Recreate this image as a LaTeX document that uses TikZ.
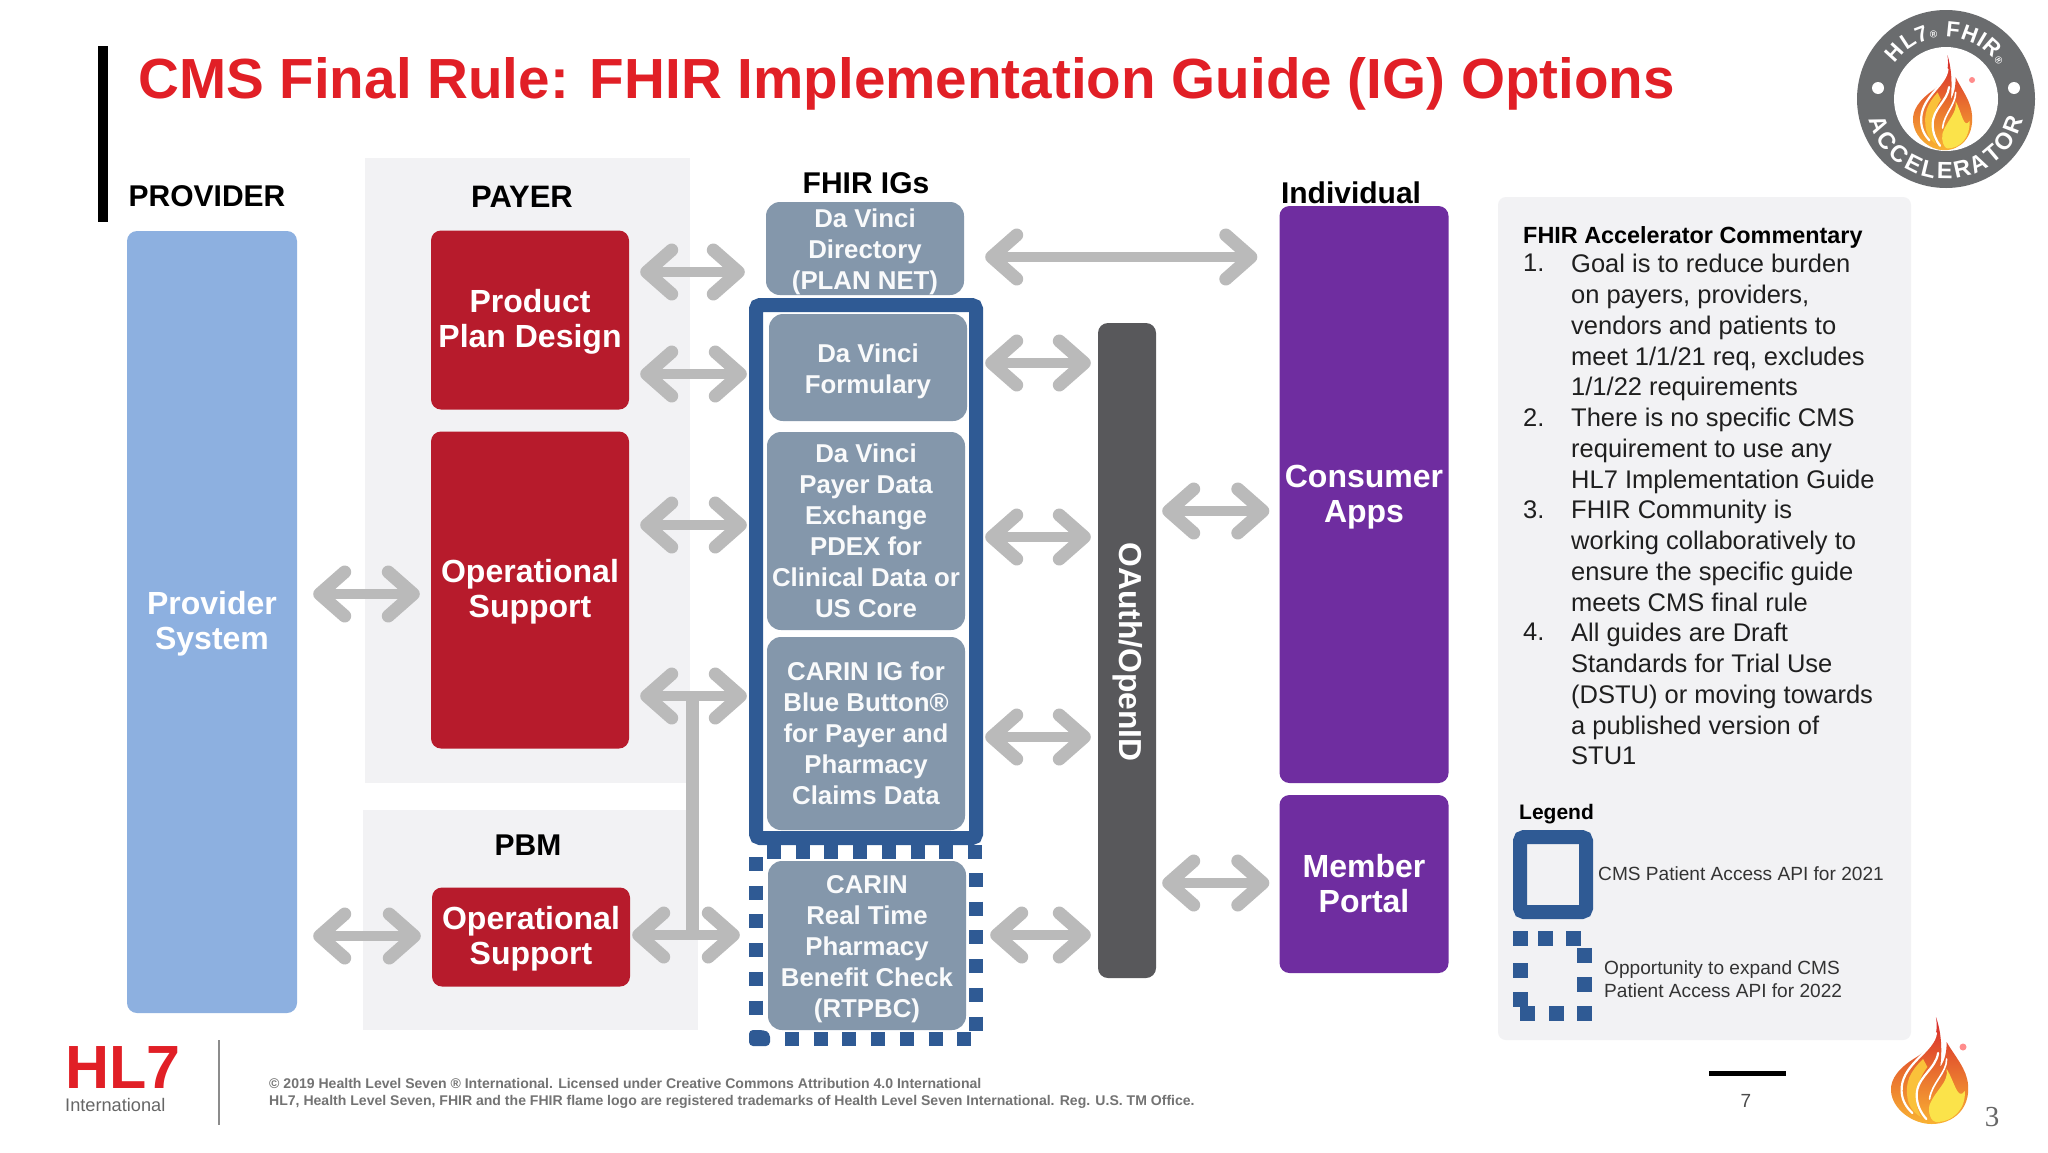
\documentclass[tikz,border=0pt]{standalone}
\usepackage{fontspec}
\setmainfont{Liberation Sans}
\newfontfamily\serifthree{Liberation Serif}
\usetikzlibrary{arrows.meta,decorations.text}
\definecolor{pan}{HTML}{F2F2F4}
\definecolor{provc}{HTML}{8DB0E0}
\definecolor{redc}{HTML}{B71B2C}
\definecolor{igc}{HTML}{8497AB}
\definecolor{framec}{HTML}{2F5A94}
\definecolor{purpc}{HTML}{6F2DA0}
\definecolor{oauthc}{HTML}{58585B}
\definecolor{arrc}{HTML}{BABABA}
\definecolor{titlec}{HTML}{E11F26}
\definecolor{logoc}{HTML}{6A6C6E}
\definecolor{flametop}{HTML}{D7262B}
\definecolor{flamebot}{HTML}{F9B233}
\definecolor{flamemid}{HTML}{F08A24}
\definecolor{flamecore}{HTML}{FBE34A}
\newcommand{\fs}[2]{\fontsize{#1}{#2}\selectfont}
\newcommand{\up}{\rule{0pt}{25pt}}
\newcommand{\upb}{\rule{0pt}{27.5pt}}
\newcommand{\flameart}{%
  \shade[top color=flametop,bottom color=flamebot,shading angle=0]
    (42,0) .. controls (45,20) and (38,30) .. (24,40) .. controls (8,50) and (-1,62) .. (0,74)
    .. controls (1,92) and (20,107) .. (38,107) .. controls (58,107) and (74,92) .. (72,68)
    .. controls (71,52) and (60,40) .. (52,25) .. controls (52,36) and (50,44) .. (46,50)
    .. controls (48,32) and (47,15) .. (42,0) -- cycle;
  \fill[flamecore] (52,52) .. controls (54,66) and (42,72) .. (36,88)
    .. controls (34,96) and (38,105) .. (42,105) .. controls (58,105) and (70,92) .. (69,74)
    .. controls (62,84) and (60,66) .. (52,52) -- cycle;
  \fill[flamebot!70!flamecore] (30,42) .. controls (18,54) and (12,66) .. (16,84)
    .. controls (18,92) and (24,98) .. (28,100) .. controls (20,84) and (24,64) .. (34,50) -- cycle;
  \draw[white,line width=2.2pt,line cap=round] (42,16) .. controls (40,34) and (12,46) .. (10,70) .. controls (9,82) and (14,90) .. (20,96);
  \draw[white,line width=2.2pt,line cap=round] (44,36) .. controls (42,52) and (24,60) .. (24,78) .. controls (24,88) and (28,96) .. (33,102);
  \draw[white,line width=1.6pt,line cap=round] (52,42) .. controls (52,56) and (38,66) .. (36,82);
}
\tikzset{
  x=1pt,y=-1pt,
  lbl/.style={font=\bfseries\fs{30}{34},text=black,inner sep=0pt},
  block/.style={rounded corners=10pt,inner sep=0pt,align=center,text=white,font=\bfseries\fs{32}{35}},
  redbox/.style={block,fill=redc},
  purpbox/.style={block,fill=purpc},
  igbox/.style={rounded corners=14pt,inner sep=0pt,align=center,text=white!95!igc,fill=igc,font=\fs{25.8}{31}\bfseries},
  bi/.style={line width=10pt,color=arrc,{Straight Barb[round,length=25pt,width=44pt,line width=13pt]}-{Straight Barb[round,length=25pt,width=44pt,line width=13pt]}},
  solidframe/.style={draw=framec,line width=14pt,rounded corners=4pt},
  dashedge/.style={draw=framec,line width=14pt,dash pattern=on 14pt off 14.7pt},
  sq/.style={fill=framec},
  comm/.style={anchor=north west,inner sep=0pt,align=left,font=\fs{25.5}{30.8},text=black!88},
  foot/.style={anchor=base west,inner sep=0pt,font=\bfseries\fs{14.05}{15},text=black!55},
}
\begin{document}
\begin{tikzpicture}
\useasboundingbox (0,0) rectangle (2048,1152);
\fill[white] (0,0) rectangle (2048,1152);

% background panels
\fill[pan] (365,158) rectangle (690,783);
\fill[pan] (363,810) rectangle (698,1030);
\fill[pan,rounded corners=8pt] (1498,197) rectangle (1911,1040);

% title
\fill[black] (98,46) rectangle (108,222);
\node[anchor=base west,inner sep=0pt,text=titlec,font=\bfseries\fs{56.6}{60}] (title) at (138,98) {CMS Final Rule: FHIR Implementation Guide (IG) Options};

% column labels
\node[lbl] (lprov) at (207,196) {PROVIDER};
\node[lbl,font=\bfseries\fs{31}{34}] (lpay) at (522,197) {PAYER};
\node[lbl] (lpbm) at (528,845) {PBM};
\node[lbl] (ligs) at (866,183) {FHIR IGs};
\node[lbl] (lind) at (1351,193) {Individual};

% provider
\node[block,fill=provc,minimum width=170pt,minimum height=782pt] (prov) at (212,622) {\upb Provider\\System};

% payer
\node[redbox,minimum width=198pt,minimum height=179pt] (plan) at (530,320) {\upb Product\\Plan Design};
\node[redbox,minimum width=198pt,minimum height=317pt] (ops) at (530,590) {\upb Operational\\Support};
\node[redbox,minimum width=198pt,minimum height=99pt] (pbmops) at (531,937) {\upb Operational\\Support};

% IG frames (drawn before the boxes)
\draw[solidframe] (756,305) rectangle (976,838);
\coordinate (topA) at (767,852);
\coordinate (topB) at (983,852);
\coordinate (leftA) at (756,857);
\coordinate (leftB) at (756,1022);
\coordinate (rightA) at (976,873);
\coordinate (rightB) at (976,1031);
\coordinate (botA) at (785,1039);
\coordinate (botB) at (972,1039);
\draw[dashedge] (topA) -- (topB);
\draw[dashedge] (leftA) -- (leftB);
\draw[dashedge] (rightA) -- (rightB);
\draw[dashedge] (botA) -- (botB);
\fill[framec,rounded corners=4pt] (749,1030) -- (749,1046) -- (770,1046) -- (770,1033) -- (764,1030) -- cycle;

% IG boxes
\node[igbox,minimum width=198pt,minimum height=93pt] (dir) at (865,248.5) {\up Da Vinci\\Directory\\(PLAN NET)};
\node[igbox,minimum width=198pt,minimum height=107pt] (form) at (868,367.5) {\rule{0pt}{26pt}Da Vinci\\Formulary};
\node[igbox,minimum width=198pt,minimum height=198pt] (pdex) at (866,531) {Da Vinci\\Payer Data\\Exchange\\PDEX for\\Clinical Data or\\US Core};
\node[igbox,minimum width=198pt,minimum height=193pt] (carin) at (866,733.5) {CARIN IG for\\Blue Button®\\for Payer and\\Pharmacy\\Claims Data};
\node[igbox,minimum width=198pt,minimum height=169pt] (rtpbc) at (867,945.5) {\up CARIN\\Real Time\\Pharmacy\\Benefit Check\\(RTPBC)};

% OAuth bar
\node[rounded corners=10pt,fill=oauthc,minimum width=58pt,minimum height=655pt,inner sep=0pt] (oauth) at (1127,650.5) {};
\node[rotate=-90,text=white,font=\fs{31.8}{33}\bfseries,inner sep=0pt] (oauthtxt) at (1127.5,652) {OAuth/OpenID};

% individual
\node[purpbox,minimum width=169pt,minimum height=577pt] (apps) at (1364,494.5) {\upb Consumer\\Apps};
\node[purpbox,minimum width=169pt,minimum height=178pt] (portal) at (1364,884) {Member\\Portal};

% connector rows
\coordinate (r1) at (0,272);
\coordinate (r2) at (0,374);
\coordinate (r3) at (0,525);
\coordinate (r4) at (0,696);
\coordinate (r5) at (0,935);
\coordinate (rd) at (0,257);
\coordinate (rf) at (0,363);
\coordinate (rp) at (0,537);
\coordinate (rc) at (0,737);
\coordinate (ra) at (0,511);
\coordinate (rm) at (0,883);
\coordinate (rpo) at (0,594);
\coordinate (rpb) at (0,936);
\coordinate (jtop) at (692,696);
\coordinate (jbot) at (692,935);

\draw[arrc,line width=13pt] (jtop) -- (jbot);
\draw[bi,shorten <=11pt,shorten >=21pt] (plan.east |- r1) -- (dir.west |- r1);
\draw[bi,shorten <=11pt,shorten >=22pt] (plan.east |- r2) -- (form.west |- r2);
\draw[bi,shorten <=11pt,shorten >=20pt] (ops.east |- r3) -- (pdex.west |- r3);
\draw[bi,shorten <=11pt,shorten >=20pt] (ops.east |- r4) -- (carin.west |- r4);
\draw[bi,shorten <=2pt,shorten >=28pt] (pbmops.east |- r5) -- (rtpbc.west |- r5);
\draw[bi,shorten <=16pt,shorten >=11pt] (prov.east |- rpo) -- (ops.west |- rpo);
\draw[bi,shorten <=16pt,shorten >=11pt] (prov.east |- rpb) -- (pbmops.west |- rpb);
\draw[bi,shorten <=21pt,shorten >=22pt] (dir.east |- rd) -- (apps.west |- rd);
\draw[bi,shorten <=18pt,shorten >=7pt] (form.east |- rf) -- (oauth.west |- rf);
\draw[bi,shorten <=20pt,shorten >=7pt] (pdex.east |- rp) -- (oauth.west |- rp);
\draw[bi,shorten <=20pt,shorten >=7pt] (carin.east |- rc) -- (oauth.west |- rc);
\draw[bi,shorten <=24pt,shorten >=7pt] (rtpbc.east |- r5) -- (oauth.west |- r5);
\draw[bi,shorten <=6pt,shorten >=10pt] (oauth.east |- ra) -- (apps.west |- ra);
\draw[bi,shorten <=6pt,shorten >=10pt] (oauth.east |- rm) -- (portal.west |- rm);

% commentary
\node[anchor=base west,inner sep=0pt,font=\bfseries\fs{23.4}{26},text=black] (chead) at (1523,243) {FHIR Accelerator Commentary};
\node[comm] (n1) at (1523,254) {1.};
\node[comm] (n2) at (1523,408) {2.};
\node[comm] (n3) at (1523,500) {3.};
\node[comm] (n4) at (1523,623) {4.};
\node[comm] (c1) at (1571,254) {Goal is to reduce burden\\on payers, providers,\\vendors and patients to\\meet 1/1/21 req, excludes\\1/1/22 requirements};
\node[comm] (c2) at (1571,408) {There is no specific CMS\\requirement to use any\\HL7 Implementation Guide};
\node[comm] (c3) at (1571,500) {FHIR Community is\\working collaboratively to\\ensure the specific guide\\meets CMS final rule};
\node[comm] (c4) at (1571,623) {All guides are Draft\\Standards for Trial Use\\(DSTU) or moving towards\\a published version of\\STU1};

% legend
\node[anchor=base west,inner sep=0pt,font=\bfseries\fs{21}{23},text=black] (leg) at (1519,819) {Legend};
\draw[solidframe] (1520,837) rectangle (1586,912);
\node[anchor=west,inner sep=0pt,font=\fs{19.1}{22},text=black!80] (leg1) at (1598,874) {CMS Patient Access API for 2021};
\foreach \px/\py in {1513/931,1538/931,1566/931,1577/948,1577/977,1513/963,1513/992,1520/1006,1549/1006,1577/1006}
  \fill[sq] (\px,\py) rectangle ++(14.5,14.5);
\node[anchor=west,inner sep=0pt,align=left,font=\fs{19.1}{23},text=black!80] (leg2) at (1604,979) {Opportunity to expand CMS\\Patient Access API for 2022};

% footer
\node[anchor=base west,inner sep=0pt,text=titlec,font=\bfseries\fs{61}{62}] (hl) at (65,1088) {HL7};
\node[anchor=base west,inner sep=0pt,text=black!60,font=\fs{18.2}{21}] (intl) at (65,1111) {International};
\draw[black!45,line width=1.6pt] (219,1040) -- (219,1125);
\node[foot] (f1) at (269,1088) {© 2019 Health Level Seven ® International. Licensed under Creative Commons Attribution 4.0 International};
\node[foot] (f2) at (269,1105) {HL7, Health Level Seven, FHIR and the FHIR flame logo are registered trademarks of Health Level Seven International. Reg. U.S. TM Office.};
\fill[black] (1709,1070.5) rectangle (1786,1075.5);
\node[inner sep=0pt,text=black!70,font=\fs{19}{21}] (pg) at (1746,1101) {7};
\node[inner sep=0pt,text=black!60,font=\serifthree\fs{29}{31}] (pg2) at (1992,1117) {3};

% bottom flame
\begin{scope}[shift={(1891,1017)},xscale=1.07]
\flameart
\end{scope}
\fill[red!45!white] (1963,1047) circle[radius=3.5pt];

% badge
\fill[logoc] (1946,99) circle[radius=89pt];
\fill[white] (1946,99) circle[radius=52pt];
\fill[white] (1878,88) circle[radius=6pt];
\fill[white] (2014,88) circle[radius=6pt];
\begin{scope}[shift={(1913,55)},xscale=.82,yscale=.89]
\flameart
\end{scope}
\fill[red!45!white] (1972,80) circle[radius=3pt];
\begin{scope}[shift={(1946,99)},y=1pt]
\path[decorate,decoration={text along path,text color=white,text align={fit to path},
  text={|\bfseries\fs{22}{22}|HL7|\bfseries\fs{10}{10}|®|\bfseries\fs{22}{22}| FHIR|\bfseries\fs{10}{10}|®}}]
  (145:62pt) arc[start angle=145,end angle=33,radius=62pt];
\path[decorate,decoration={text along path,text color=white,text align={fit to path},
  text={|\bfseries\fs{23.5}{24}|ACCELERATOR}}]
  (195:80pt) arc[start angle=195,end angle=345,radius=80pt];
\end{scope}
\end{tikzpicture}
\end{document}
